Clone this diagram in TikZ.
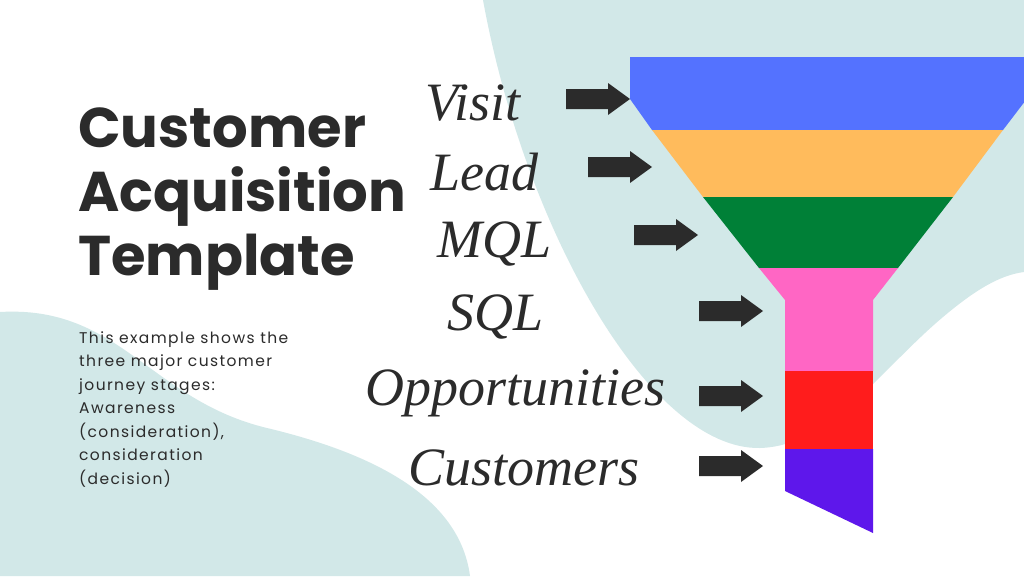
\documentclass[tikz,border=0pt]{standalone}
\usepackage{fontspec}
\setmainfont{Poppins}
\newfontfamily\lab{Liberation Serif}
\definecolor{bg}{HTML}{D2E8E8}
\definecolor{fblue}{HTML}{5472FF}
\definecolor{forange}{HTML}{FFBB5C}
\definecolor{fgreen}{HTML}{008037}
\definecolor{fpink}{HTML}{FF66C4}
\definecolor{fred}{HTML}{FF1C1C}
\definecolor{fpurple}{HTML}{5E17EB}
\definecolor{ink}{HTML}{2B2B2B}
\begin{document}
\begin{tikzpicture}[x=1pt,y=-1pt,
  lbl/.style={anchor=base west,inner sep=0pt,text=ink,font=\lab\itshape\fontsize{54}{54}\selectfont},
  arr/.style={fill=ink}]
\useasboundingbox (0,0) rectangle (1024,576);
\fill[white] (0,0) rectangle (1024,576);
% background blobs
\fill[bg] (483,0) .. controls (525,230) and (650,450) .. (760,448)
  .. controls (830,446) and (880,370) .. (943,317)
  .. controls (975,290) and (1000,275) .. (1024,272) -- (1024,0) -- cycle;
\fill[bg] (0,312) .. controls (120,305) and (150,400) .. (267,428)
  .. controls (380,455) and (460,500) .. (470,576) -- (0,576) -- cycle;
% funnel
\fill[fblue] (630,57) -- (1024,57) -- (1024,102.5) -- (1003,130) -- (652,130) -- (630,99) -- cycle;
\fill[forange] (652,130) -- (1003,130) -- (953,197) -- (703,197) -- cycle;
\fill[fgreen] (703,197) -- (953,197) -- (898,268) -- (759,268) -- cycle;
\fill[fpink] (759,268) -- (898,268) -- (873,300) -- (873,371) -- (785,371) -- (785,300) -- cycle;
\fill[fred] (785,371) rectangle (873,449);
\fill[fpurple] (785,449) -- (873,449) -- (873,533) -- (785,491) -- cycle;
% arrows
\foreach \x/\y in {566/99,588/167,634/235,699/311,699/396,699/466}{
  \fill[arr] (\x,\y-10) -- (\x+42,\y-10) -- (\x+42,\y-16) -- (\x+64,\y) -- (\x+42,\y+16) -- (\x+42,\y+10) -- (\x,\y+10) -- cycle;
}
% labels
\node[lbl] (visit) at (425,120) {Visit};
\node[lbl] (lead) at (430,190) {Lead};
\node[lbl] (mql) at (437,257) {MQL};
\node[lbl] (sql) at (447,330) {SQL};
\node[lbl] (opp) at (365,405) {Opportunities};
\node[lbl] (cust) at (408,485) {Customers};
% title
\node[anchor=north west,inner sep=0pt,text=ink,align=left,
  font=\bfseries\fontsize{56}{64}\selectfont] (title) at (78,108)
  {Customer\\Acquisition\\Template};
\node[anchor=north west,inner sep=0pt,text=ink,align=left,
  font=\fontsize{15.5}{23.5}\selectfont\addfontfeature{LetterSpace=9}] (body) at (79,331)
  {This example shows the\\three major customer\\journey stages:\\Awareness\\(consideration),\\consideration\\(decision)};
\end{tikzpicture}
\end{document}
